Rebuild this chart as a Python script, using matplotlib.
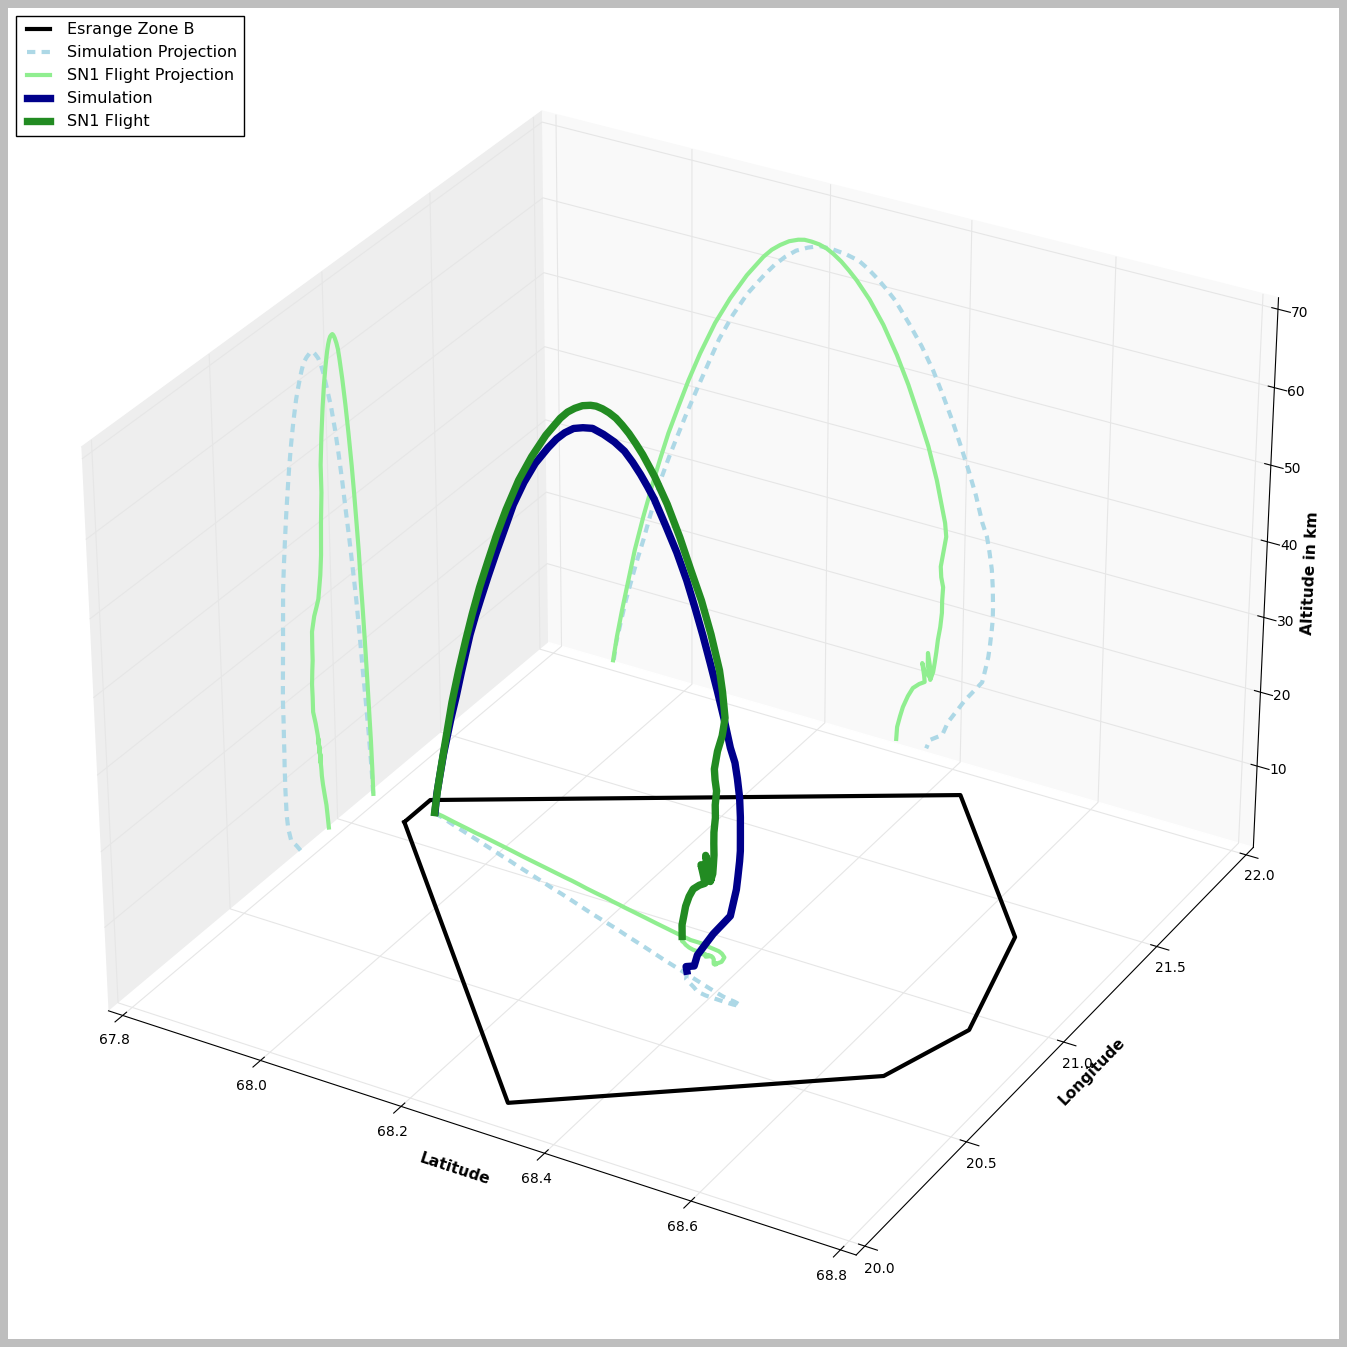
#!/usr/bin/env python
"""
Trajectory of the SN1 flight against the simulated trajectory, above the
Esrange Zone B impact area, with projections on the ground and the side walls.
"""

import numpy as np
import matplotlib

# non interactive backend
matplotlib.use("Agg")
import matplotlib.pyplot as plt

# ---------------------------------------------------------------------
# data
# ---------------------------------------------------------------------

zone_lat = [67.871, 67.871, 68.451, 68.670, 68.720, 68.679, 68.319, 67.871]
zone_lon = [21.028, 21.153, 21.851, 21.319, 20.890, 20.609, 20.059, 21.028]

flight_lat = [
    67.892, 67.898, 67.906, 67.916, 67.926, 67.939, 67.952, 67.964, 67.977, 67.992, 68.007, 68.024, 68.046, 68.068, 68.092,
    68.116, 68.128, 68.140, 68.153, 68.166, 68.175, 68.185, 68.196, 68.207, 68.217, 68.228, 68.239, 68.250,
    68.269, 68.289, 68.309, 68.326, 68.341, 68.356, 68.369, 68.375,
    68.382, 68.383, 68.384, 68.381, 68.377, 68.378, 68.381, 68.380, 68.380, 68.378, 68.375, 68.373, 68.371, 68.369, 68.365,
    68.361, 68.361, 68.364, 68.366, 68.357, 68.353, 68.356, 68.357, 68.349, 68.340, 68.333, 68.326, 68.322, 68.318, 68.317,
]
flight_lon = [
    21.106, 21.104, 21.101, 21.096, 21.091, 21.085, 21.079, 21.073, 21.068, 21.061, 21.054, 21.046, 21.035, 21.025, 21.014,
    21.003, 20.998, 20.992, 20.985, 20.979, 20.975, 20.971, 20.965, 20.960, 20.955, 20.950, 20.945, 20.940,
    20.931, 20.922, 20.913, 20.906, 20.906, 20.900, 20.896, 20.890,
    20.878, 20.868, 20.857, 20.845, 20.844, 20.844, 20.841, 20.838, 20.839, 20.839, 20.849, 20.857, 20.861, 20.865, 20.867,
    20.863, 20.858, 20.863, 20.867, 20.866, 20.863, 20.866, 20.868, 20.869, 20.870, 20.874, 20.881, 20.887, 20.891, 20.895,
]
flight_alt = [
    0.3, 3.8, 7.7, 12.2, 16.7, 21.6, 26.1, 30.0, 34.0, 38.0, 41.9, 45.9, 50.5, 54.3, 57.9,
    60.9, 62.1, 63.0, 63.8, 64.3, 64.5, 64.5, 64.4, 64.1, 63.6, 62.9, 62.0, 61.0,
    58.9, 56.1, 52.6, 49.1, 45.5, 41.7, 37.5, 35.0,
    32.1, 31.2, 30.3, 28.5, 26.1, 24.7, 23.4, 21.6, 19.9, 17.9, 16.1, 14.3, 12.8, 11.5, 10.3,
    12.3, 13.9, 12.3, 10.6, 11.2, 12.3, 10.7, 9.8, 9.3, 8.5, 7.2, 5.5, 4.1, 2.5, 0.8,
]

sim_lat = [
    67.893, 67.897, 67.904, 67.912, 67.928, 67.939, 67.949, 67.967, 67.978, 67.989, 68.003, 68.019, 68.035, 68.052, 68.072,
    68.093, 68.117, 68.132, 68.147, 68.163, 68.180, 68.197, 68.216, 68.235, 68.253, 68.267, 68.281, 68.293, 68.305,
    68.325, 68.344, 68.361, 68.375, 68.389, 68.402,
    68.414, 68.425, 68.435, 68.442, 68.446, 68.450, 68.452, 68.453, 68.453, 68.452, 68.450, 68.448, 68.444, 68.440, 68.430,
    68.416, 68.405, 68.392, 68.384, 68.366, 68.361,
]
sim_lon = [
    21.105, 21.102, 21.097, 21.091, 21.079, 21.071, 21.064, 21.051, 21.043, 21.035, 21.025, 21.013, 21.002, 20.989, 20.975,
    20.960, 20.942, 20.932, 20.921, 20.909, 20.896, 20.884, 20.871, 20.858, 20.844, 20.834, 20.824, 20.815, 20.806,
    20.791, 20.778, 20.766, 20.756, 20.746, 20.737,
    20.729, 20.722, 20.718, 20.716, 20.714, 20.711, 20.708, 20.705, 20.705, 20.705, 20.704, 20.704, 20.703, 20.703, 20.703,
    20.704, 20.705, 20.710, 20.722, 20.745, 20.766,
]
sim_alt = [
    0.4, 3.0, 6.0, 9.3, 14.9, 18.4, 21.9, 27.8, 30.8, 33.6, 37.1, 40.9, 44.6, 48.5, 52.2,
    55.5, 58.5, 60.2, 61.6, 62.8, 63.6, 64.2, 64.2, 64.0, 63.6, 62.8, 61.8, 60.8, 59.7,
    57.2, 54.6, 51.8, 49.0, 46.0, 42.9,
    39.9, 36.9, 33.5, 31.8, 29.9, 27.6, 25.2, 22.6, 20.9, 19.5, 17.4, 15.7, 13.8, 12.0, 10.7,
    8.9, 7.2, 5.2, 3.2, 2.0, 0.7,
]

lat_ticks = [67.8, 68.0, 68.2, 68.4, 68.6, 68.8]
lon_ticks = [20.0, 20.5, 21.0, 21.5, 22.0]
alt_ticks = [10, 20, 30, 40, 50, 60, 70]

# planes the projections are drawn on
GROUND_ALT = 0.3
WALL_LAT = 67.8
WALL_LON = 22.0

DASHES = (0, (2, 1.5))
BORDER = 8 / 1347

# ---------------------------------------------------------------------
# figure
# ---------------------------------------------------------------------

plt.rcParams["grid.color"] = "#e6e6e6"

fig = plt.figure(figsize=(13.47, 13.47), dpi=100, facecolor="white",
                 edgecolor="#bebebe", linewidth=11.52)
ax = fig.add_axes([BORDER, BORDER, 1 - 2 * BORDER, 1 - 2 * BORDER], projection="3d")
ax.patch.set_alpha(0)
ax.computed_zorder = False

ax.set_xlim(67.8 - 1 / 48, 68.8 + 1 / 48)
ax.set_ylim(20 - 2 / 48, 22 + 2 / 48)
ax.set_zlim(-1.15, 71.45)
ax.set_xticks(lat_ticks)
ax.set_yticks(lon_ticks)
ax.set_zticks(alt_ticks)
ax.tick_params(axis="both", pad=1.5)

ax.xaxis.set_pane_color((0.933, 0.933, 0.933, 1))
ax.yaxis.set_pane_color((0.976, 0.976, 0.976, 1))
ax.zaxis.set_pane_color((1, 1, 1, 1))

ax.set_xlabel("Latitude", fontweight="bold", fontsize=11.2, labelpad=-1)
ax.set_ylabel("Longitude", fontweight="bold", fontsize=11.2, labelpad=-2)
ax.set_zlabel("Altitude in km", fontweight="bold", fontsize=11.2, labelpad=-1)


def plot_projections(lat, lon, alt, **style):
    """Draw one trajectory flattened on the ground and on both walls."""
    lat = np.asarray(lat)
    lon = np.asarray(lon)
    alt = np.asarray(alt)
    label = style.pop("label")
    ax.plot(lat, lon, np.full_like(lat, GROUND_ALT), label=label, **style)
    ax.plot(lat, np.full_like(lat, WALL_LON), alt, **style)
    ax.plot(np.full_like(lat, WALL_LAT), lon, alt, **style)


ax.plot(zone_lat, zone_lon, np.full(len(zone_lat), GROUND_ALT), color="black", lw=3,
        label="Esrange Zone B")
plot_projections(sim_lat, sim_lon, sim_alt, color="lightblue", lw=3, ls=DASHES,
                 label="Simulation Projection")
plot_projections(flight_lat, flight_lon, flight_alt, color="lightgreen", lw=3,
                 label="SN1 Flight Projection")
ax.plot(sim_lat, sim_lon, sim_alt, color="darkblue", lw=5.3, label="Simulation")
ax.plot(flight_lat, flight_lon, flight_alt, color="forestgreen", lw=5.3, label="SN1 Flight")

ax.legend(loc="upper left", bbox_to_anchor=(16 / 1347, 1 - 16 / 1347),
          bbox_transform=fig.transFigure, borderaxespad=0, fancybox=False,
          framealpha=1, edgecolor="black", fontsize=11.5, numpoints=2)

fig.savefig("out.png", dpi=100)
